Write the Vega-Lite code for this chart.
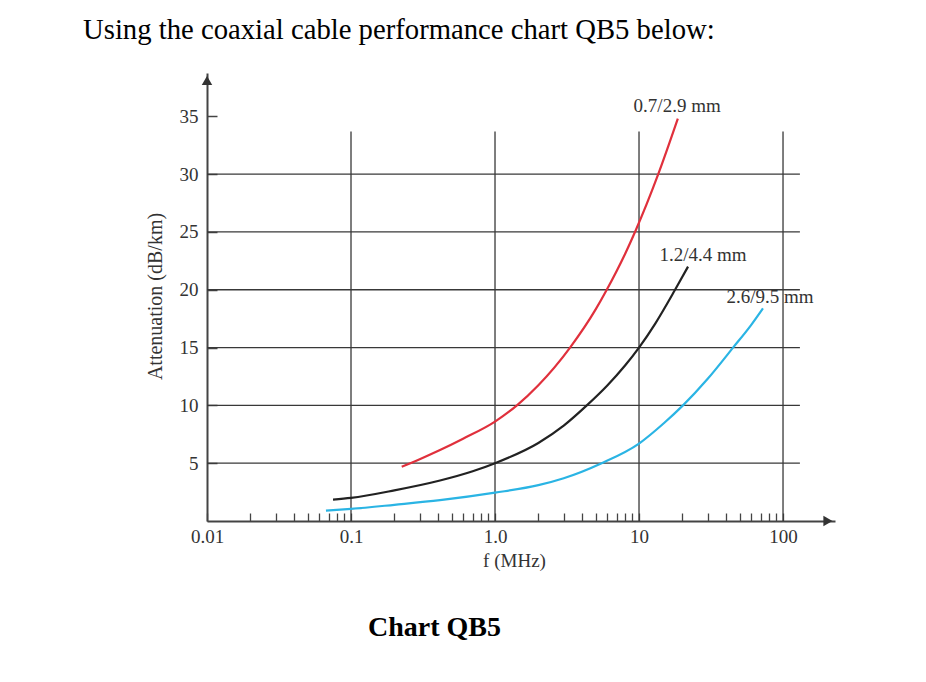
{
  "$schema": "https://vega.github.io/schema/vega-lite/v6.json",
  "width": 628,
  "height": 448,
  "autosize": {"type": "none"},
  "padding": {"left": 207, "top": 73, "right": 91, "bottom": 161},
  "background": "white",
  "config": {"view": {"stroke": null}, "font": "Liberation Serif"},
  "title": {
    "text": "Using the coaxial cable performance chart QB5 below:",
    "anchor": "start",
    "frame": "group",
    "dx": -124,
    "offset": 5,
    "fontSize": 28.7,
    "fontWeight": "normal",
    "font": "Liberation Serif",
    "color": "#000000",
    "baseline": "alphabetic"
  },
  "datasets": {
    "curves": [
      {"cable": "0.7/2.9 mm", "f": 0.225, "A": 4.7},
      {"cable": "0.7/2.9 mm", "f": 0.3, "A": 5.35},
      {"cable": "0.7/2.9 mm", "f": 0.415, "A": 6.14},
      {"cable": "0.7/2.9 mm", "f": 0.6, "A": 7.12},
      {"cable": "0.7/2.9 mm", "f": 1.0, "A": 8.6},
      {"cable": "0.7/2.9 mm", "f": 1.42, "A": 10},
      {"cable": "0.7/2.9 mm", "f": 2.0, "A": 11.74},
      {"cable": "0.7/2.9 mm", "f": 3.32, "A": 15},
      {"cable": "0.7/2.9 mm", "f": 5.0, "A": 18.3},
      {"cable": "0.7/2.9 mm", "f": 5.97, "A": 20},
      {"cable": "0.7/2.9 mm", "f": 8.0, "A": 23.1},
      {"cable": "0.7/2.9 mm", "f": 9.38, "A": 25},
      {"cable": "0.7/2.9 mm", "f": 13.6, "A": 30},
      {"cable": "0.7/2.9 mm", "f": 18.6, "A": 34.8},
      {"cable": "1.2/4.4 mm", "f": 0.075, "A": 1.85},
      {"cable": "1.2/4.4 mm", "f": 0.1, "A": 2.0},
      {"cable": "1.2/4.4 mm", "f": 0.2, "A": 2.65},
      {"cable": "1.2/4.4 mm", "f": 0.415, "A": 3.5},
      {"cable": "1.2/4.4 mm", "f": 0.7, "A": 4.3},
      {"cable": "1.2/4.4 mm", "f": 1.0, "A": 5.0},
      {"cable": "1.2/4.4 mm", "f": 2.0, "A": 6.75},
      {"cable": "1.2/4.4 mm", "f": 3.0, "A": 8.25},
      {"cable": "1.2/4.4 mm", "f": 4.34, "A": 10},
      {"cable": "1.2/4.4 mm", "f": 6.0, "A": 11.7},
      {"cable": "1.2/4.4 mm", "f": 8.0, "A": 13.45},
      {"cable": "1.2/4.4 mm", "f": 10, "A": 15},
      {"cable": "1.2/4.4 mm", "f": 13, "A": 17.1},
      {"cable": "1.2/4.4 mm", "f": 17.8, "A": 20},
      {"cable": "1.2/4.4 mm", "f": 21.9, "A": 22},
      {"cable": "2.6/9.5 mm", "f": 0.067, "A": 0.9},
      {"cable": "2.6/9.5 mm", "f": 0.1, "A": 1.05},
      {"cable": "2.6/9.5 mm", "f": 0.2, "A": 1.4},
      {"cable": "2.6/9.5 mm", "f": 0.415, "A": 1.8},
      {"cable": "2.6/9.5 mm", "f": 1.0, "A": 2.45},
      {"cable": "2.6/9.5 mm", "f": 2.0, "A": 3.1},
      {"cable": "2.6/9.5 mm", "f": 3.0, "A": 3.7},
      {"cable": "2.6/9.5 mm", "f": 5.5, "A": 5.0},
      {"cable": "2.6/9.5 mm", "f": 10, "A": 6.7},
      {"cable": "2.6/9.5 mm", "f": 15, "A": 8.5},
      {"cable": "2.6/9.5 mm", "f": 20.2, "A": 10},
      {"cable": "2.6/9.5 mm", "f": 30, "A": 12.3},
      {"cable": "2.6/9.5 mm", "f": 45, "A": 15},
      {"cable": "2.6/9.5 mm", "f": 60, "A": 16.95},
      {"cable": "2.6/9.5 mm", "f": 72.6, "A": 18.4}
    ],
    "vgrid": [{"f": 0.1}, {"f": 1}, {"f": 10}, {"f": 100}],
    "hgrid": [{"A": 5}, {"A": 10}, {"A": 15}, {"A": 20}, {"A": 25}, {"A": 30}],
    "labels": [
      {"label": "0.7/2.9 mm", "f": 18.4, "A": 35.9},
      {"label": "1.2/4.4 mm", "f": 27.8, "A": 23.0},
      {"label": "2.6/9.5 mm", "f": 81.3, "A": 19.4}
    ],
    "xarrow": [{"f": 205, "A": 0}],
    "yarrow": [{"f": 0.01, "A": 38.1}]
  },
  "resolve": {"axis": {"x": "independent", "y": "independent"}},
  "layer": [
    {
      "data": {"name": "vgrid"},
      "mark": {"type": "rule", "color": "#383838", "strokeWidth": 1.3},
      "encoding": {
        "x": {
          "field": "f",
          "type": "quantitative",
          "scale": {"type": "log", "domain": [0.01, 229.6], "nice": false},
          "axis": {
            "title": "f (MHz)",
            "values": [0.01, 0.02, 0.03, 0.04, 0.05, 0.06, 0.07, 0.08, 0.09, 0.1, 0.2, 0.3, 0.4, 0.5, 0.6, 0.7, 0.8, 0.9, 1, 2, 3, 4, 5, 6, 7, 8, 9, 10, 20, 30, 40, 50, 60, 70, 80, 90, 100],
            "labelExpr": "datum.value == 0.01 ? '0.01' : datum.value == 0.1 ? '0.1' : datum.value == 1 ? '1.0' : datum.value == 10 ? '10' : datum.value == 100 ? '100' : ''",
            "grid": false,
            "tickSize": -8,
            "tickColor": "#444444",
            "tickWidth": 1.3,
            "domainColor": "#444444",
            "domainWidth": 2,
            "labelFont": "Liberation Serif",
            "labelFontSize": 19,
            "labelColor": "#333333",
            "labelPadding": 14,
            "labelOverlap": false,
            "labelFlush": false,
            "titleFont": "Liberation Serif",
            "titleFontSize": 19,
            "titleFontWeight": "normal",
            "titleColor": "#333333",
            "titleX": 307,
            "titleY": 39,
            "titleBaseline": "middle"
          }
        },
        "y": {
          "datum": 0,
          "type": "quantitative",
          "scale": {"domain": [0, 38.75], "nice": false, "zero": false},
          "axis": {
            "title": "Attenuation (dB/km)",
            "values": [5, 10, 15, 20, 25, 30, 35],
            "grid": false,
            "tickSize": -10,
            "tickColor": "#444444",
            "tickWidth": 1.5,
            "domainColor": "#444444",
            "domainWidth": 2,
            "labelFont": "Liberation Serif",
            "labelFontSize": 19,
            "labelColor": "#333333",
            "labelPadding": 19,
            "titleFont": "Liberation Serif",
            "titleFontSize": 20,
            "titleFontWeight": "normal",
            "titleColor": "#333333",
            "titleX": -52,
            "titleY": 223,
            "titleBaseline": "middle"
          }
        },
        "y2": {"datum": 33.7}
      }
    },
    {
      "data": {"name": "hgrid"},
      "mark": {"type": "rule", "color": "#383838", "strokeWidth": 1.3},
      "encoding": {
        "y": {"field": "A", "type": "quantitative", "axis": null},
        "x": {"datum": 0.01, "type": "quantitative", "axis": null},
        "x2": {"datum": 131}
      }
    },
    {
      "data": {"name": "curves"},
      "mark": {"type": "line", "interpolate": "monotone", "strokeWidth": 2.2},
      "encoding": {
        "x": {"field": "f", "type": "quantitative", "axis": null},
        "y": {"field": "A", "type": "quantitative", "axis": null},
        "color": {
          "field": "cable",
          "type": "nominal",
          "scale": {"domain": ["0.7/2.9 mm", "1.2/4.4 mm", "2.6/9.5 mm"], "range": ["#e0303c", "#222222", "#2ab4e4"]},
          "legend": null
        }
      }
    },
    {
      "data": {"name": "labels"},
      "mark": {"type": "text", "font": "Liberation Serif", "fontSize": 19, "color": "#333333", "baseline": "middle", "align": "center"},
      "encoding": {
        "x": {
          "field": "f",
          "type": "quantitative",
          "axis": {
            "orient": "bottom",
            "title": "Chart QB5",
            "labels": false,
            "ticks": false,
            "domain": false,
            "grid": false,
            "titleFont": "Liberation Serif",
            "titleFontSize": 28,
            "titleFontWeight": "bold",
            "titleColor": "#000000",
            "titleX": 227,
            "titleY": 106,
            "titleBaseline": "middle"
          }
        },
        "y": {"field": "A", "type": "quantitative", "axis": null},
        "text": {"field": "label"}
      }
    },
    {
      "data": {"name": "xarrow"},
      "mark": {"type": "point", "shape": "triangle-right", "filled": true, "size": 110, "color": "#333333", "opacity": 1},
      "encoding": {
        "x": {"field": "f", "type": "quantitative", "axis": null},
        "y": {"field": "A", "type": "quantitative", "axis": null}
      }
    },
    {
      "data": {"name": "yarrow"},
      "mark": {"type": "point", "shape": "triangle-up", "filled": true, "size": 110, "color": "#333333", "opacity": 1},
      "encoding": {
        "x": {"field": "f", "type": "quantitative", "axis": null},
        "y": {"field": "A", "type": "quantitative", "axis": null}
      }
    }
  ]
}
